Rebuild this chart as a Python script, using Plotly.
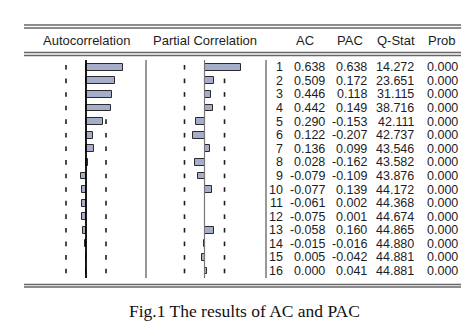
import plotly.graph_objects as go

# ---------------- data ----------------
lags = list(range(1, 17))
ac = [0.638, 0.509, 0.446, 0.442, 0.290, 0.122, 0.136, 0.028,
      -0.079, -0.077, -0.061, -0.075, -0.058, -0.015, 0.005, 0.000]
pac = [0.638, 0.172, 0.118, 0.149, -0.153, -0.207, 0.099, -0.162,
       -0.109, 0.139, 0.002, 0.001, 0.160, -0.016, -0.042, 0.041]
qstat = [14.272, 23.651, 31.115, 38.716, 42.111, 42.737, 43.546, 43.582,
         43.876, 44.172, 44.368, 44.674, 44.865, 44.880, 44.881, 44.881]
prob = [0.000] * 16
ci_bound = 0.348
headers = ["Autocorrelation", "Partial Correlation", "AC", "PAC", "Q-Stat", "Prob"]
caption = "Fig.1 The results of AC and PAC"
top_formula = "<i>p</i> = 0.6,  <i>q</i>  =  (1,  2,  3,  4)"

# ---------------- layout constants (pixels) ----------------
W, H = 474, 322
row1_px, row_step = 67.3, 13.58
px_per_unit = 57.5
ac_zero_px, pac_zero_px = 86.0, 204.5

def py(p):  # pixel y -> paper y
    return 1 - p / H

def px(p):  # pixel x -> paper x
    return p / W

y_top = 1 + (0 - row1_px) / row_step
y_bot = 1 + (H - row1_px) / row_step
ac_range = [-ac_zero_px / px_per_unit, (W - ac_zero_px) / px_per_unit]
pac_range = [-pac_zero_px / px_per_unit, (W - pac_zero_px) / px_per_unit]

bar_fill = "#A5ADCA"
bar_line = "#2a2a2a"
dash_col = "#1e1e1e"

def dash_xy(ci):
    xs, ys = [], []
    for k in lags:
        for s in (-1, 1):
            xs += [s * ci, s * ci, None]
            ys += [k - 0.17, k + 0.17, None]
    return xs, ys

fig = go.Figure()
dx, dy = dash_xy(ci_bound)
fig.add_trace(go.Scatter(x=dx, y=dy, mode="lines", xaxis="x", yaxis="y",
                         line=dict(color=dash_col, width=1.6), hoverinfo="skip"))
fig.add_trace(go.Scatter(x=dx, y=dy, mode="lines", xaxis="x2", yaxis="y",
                         line=dict(color=dash_col, width=1.6), hoverinfo="skip"))
fig.add_trace(go.Bar(x=ac, y=lags, orientation="h", xaxis="x3", yaxis="y", width=0.5,
                     marker=dict(color=bar_fill, line=dict(color=bar_line, width=1))))
fig.add_trace(go.Bar(x=pac, y=lags, orientation="h", xaxis="x4", yaxis="y", width=0.5,
                     marker=dict(color=bar_fill, line=dict(color=bar_line, width=1))))

ax_common = dict(visible=False, showgrid=False, zeroline=False, domain=[0, 1])
fig.update_layout(
    width=W, height=H,
    margin=dict(l=0, r=0, t=0, b=0),
    paper_bgcolor="white", plot_bgcolor="rgba(0,0,0,0)",
    showlegend=False,
    xaxis=dict(range=ac_range, **ax_common),
    xaxis2=dict(range=pac_range, overlaying="x", **ax_common),
    xaxis3=dict(range=ac_range, overlaying="x", **ax_common),
    xaxis4=dict(range=pac_range, overlaying="x", **ax_common),
    yaxis=dict(range=[y_bot, y_top], visible=False, showgrid=False, zeroline=False, domain=[0, 1]),
    bargap=0,
)

shapes = []
line_col = "#666666"
for yp in (25.0, 28.0, 52.5, 55.5, 284.5, 287.0):
    shapes.append(dict(type="line", xref="paper", yref="paper",
                       x0=px(24), x1=px(461), y0=py(yp), y1=py(yp),
                       line=dict(color=line_col, width=1.3)))
# vertical separators
for xp in (146.0, 266.0):
    shapes.append(dict(type="line", xref="paper", yref="paper",
                       x0=px(xp), x1=px(xp), y0=py(60), y1=py(278),
                       line=dict(color="#333333", width=1)))
# zero lines
shapes.append(dict(type="line", xref="x3", yref="paper", x0=0, x1=0,
                   y0=py(60), y1=py(278), line=dict(color="#000000", width=1.8), layer="above"))
shapes.append(dict(type="line", xref="x4", yref="paper", x0=0, x1=0,
                   y0=py(60), y1=py(278), line=dict(color="#777777", width=1.2), layer="above"))
fig.update_layout(shapes=shapes)

ann = []
sans = "Liberation Sans, Arial, sans-serif"
txt_col = "#1c1c24"
header_x = [86, 205, 305, 350, 395.7, 441.7]
for h, xc in zip(headers, header_x):
    ann.append(dict(text=h, x=px(xc), y=py(41), xref="paper", yref="paper",
                    xanchor="center", yanchor="middle", showarrow=False,
                    font=dict(family=sans, size=13, color=txt_col)))

col_right = [284.5, 326.5, 368.5, 416.0, 459.5]
for i, k in enumerate(lags):
    vals = [str(k), f"{ac[i]:.3f}", f"{pac[i]:.3f}", f"{qstat[i]:.3f}", f"{prob[i]:.3f}"]
    for v, xr in zip(vals, col_right):
        ann.append(dict(text=v, x=px(xr), y=k, xref="paper", yref="y",
                        xanchor="right", yanchor="middle", showarrow=False,
                        font=dict(family=sans, size=12.5, color=txt_col)))

ann.append(dict(text=caption, x=px(244), y=py(311), xref="paper", yref="paper",
                xanchor="center", yanchor="middle", showarrow=False,
                font=dict(family="Liberation Serif, Times New Roman, serif", size=17.5, color="#111111")))
ann.append(dict(text=top_formula, x=px(84), y=py(-0.5), xref="paper", yref="paper",
                xanchor="left", yanchor="bottom", showarrow=False,
                font=dict(family="Liberation Serif, Times New Roman, serif", size=18, color="#111111")))
fig.update_layout(annotations=ann)

fig.write_html("out.html")
